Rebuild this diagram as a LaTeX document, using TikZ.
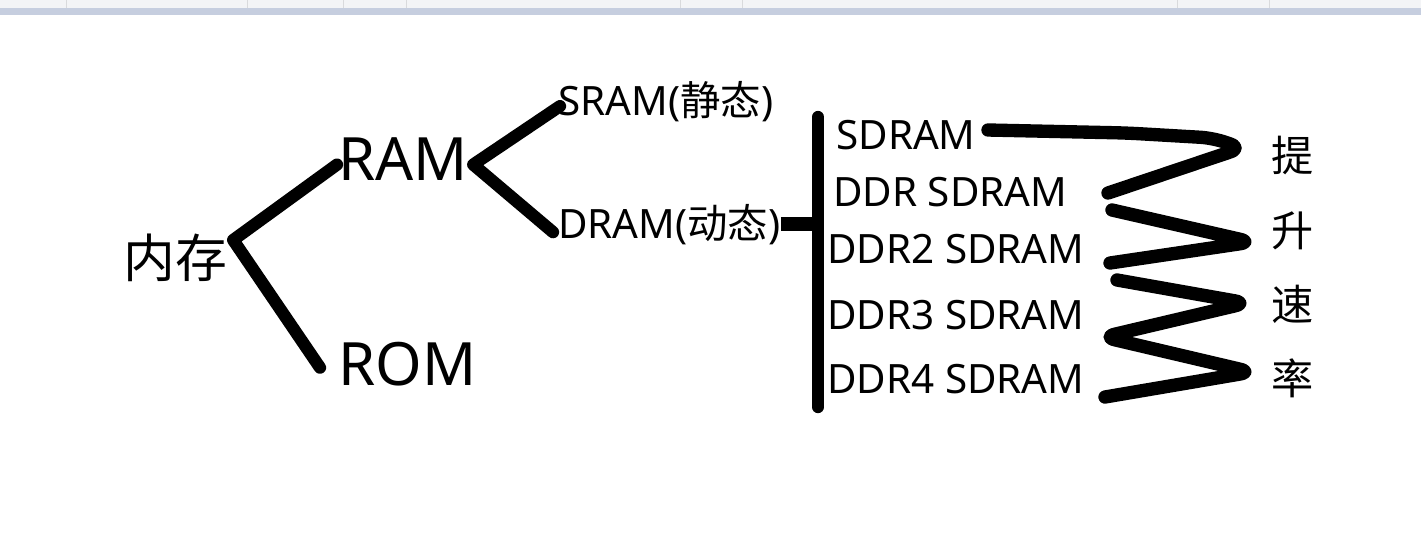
\documentclass[tikz,border=0pt]{standalone}
\usepackage{fontspec}
\setmainfont{Noto Sans}
\newfontfamily\cjk{Noto Sans CJK SC}
\usetikzlibrary{calc}

\definecolor{headgray}{HTML}{F3F4F6}
\definecolor{headblue}{HTML}{C6CEDF}
\definecolor{headrule}{HTML}{D9DADC}

\tikzset{
  stroke/.style={line width=7pt, line cap=round, line join=round},
  spring/.style={line width=7.6pt, line cap=round, line join=round, rounded corners=0.25cm},
  word/.style={inner sep=0pt, anchor=base west},
  big/.style={font=\fontsize{34}{34}\selectfont},
  small/.style={font=\fontsize{23}{23}\selectfont},
}

\begin{document}
\begin{tikzpicture}[x=0.02cm, y=-0.02cm]
    \useasboundingbox (0,0) rectangle (1421,549);

    % header strip
    \fill[headgray] (0,0) rectangle (1421,8);
    \fill[headblue] (0,8) rectangle (1421,15);
    \foreach \xx in {66,247,343,406,680,742,1177,1269}
        \draw[headrule] (\xx,0) -- (\xx,8);

    % tree
    \node[inner sep=0pt, font=\cjk\fontsize{29.5}{29.5}\selectfont] (mem) at (175,258) {内存};
    \node[word, big] (ram) at (338,180) {RAM};
    \node[word, big] (rom) at (338,385) {ROM};
    \node[word, small] (sram) at (558,115) {SRAM({\cjk 静态})};
    \node[word, small] (dram) at (558,238) {DRAM({\cjk 动态})};

    \coordinate (fork) at ($(mem.east)+(6,-18)$);
    \draw[stroke] ($(ram.west)+(-1,6)$) -- (fork) -- ($(rom.west)+(-18,4)$);

    \coordinate (ramfork) at ($(ram.east)+(5,6)$);
    \draw[stroke] ($(sram.west)+(2,5)$) -- (ramfork) -- ($(dram.west)+(-5,8)$);

    % DRAM family
    \coordinate (bartop) at (818,117);
    \coordinate (barbot) at (818,407);
    \draw[stroke] (bartop) -- (barbot);
    \draw[line width=8.3pt] (dram.east) -- (dram.east -| bartop);

    \node[word, small] (sd) at (836,149) {SDRAM};
    \node[word, small] (ddr) at (833,206) {DDR SDRAM};
    \node[word, small] (ddr2) at (827,263) {DDR2 SDRAM};
    \node[word, small] (ddr3) at (827,329) {DDR3 SDRAM};
    \node[word, small] (ddr4) at (827,393) {DDR4 SDRAM};

    % spring
    \coordinate (t1) at (1242,148);
    \coordinate (t2) at (1252,242);
    \coordinate (t3) at (1247,303);
    \coordinate (t4) at (1252,372);
    \draw[spring] (988,130) -- (1127,133) -- (1213,138) -- (t1) -- (1108,193);
    \draw[spring] (1112,210) -- (t2) -- (1110,263);
    \draw[spring] (1117,280) -- (t3) -- (1103,337) -- (t4) -- (1105,397);

    % label
    \foreach \ch/\yy [count=\i] in {提/155, 升/231, 速/304, 率/378}
        \node[inner sep=0pt, font=\cjk\fontsize{24}{24}\selectfont] (up\i) at (1293,\yy) {\ch};
\end{tikzpicture}
\end{document}
